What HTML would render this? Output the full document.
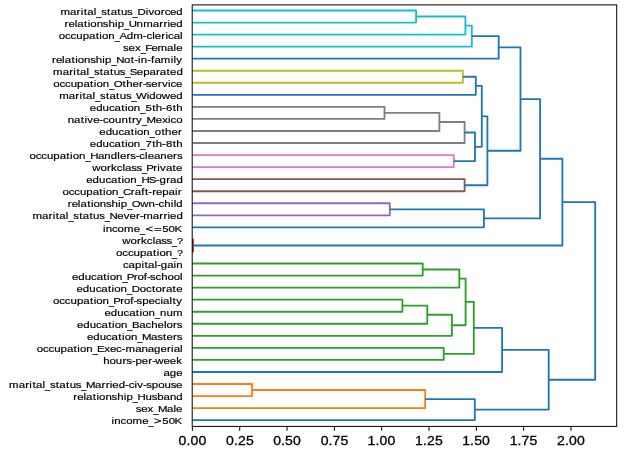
<!DOCTYPE html><html><head><meta charset="utf-8"><style>html,body{margin:0;padding:0;background:#fff;width:630px;height:457px;overflow:hidden}svg{display:block;will-change:transform}text{font-family:"Liberation Sans",sans-serif;fill:#000;stroke:#000;stroke-width:0.18px}</style></head><body>
<svg xmlns="http://www.w3.org/2000/svg" width="630" height="457" viewBox="0 0 630 457">
<rect width="630" height="457" fill="#fff"/>
<g fill="none" stroke-width="1.85" stroke-linejoin="round" stroke-linecap="butt">
<path d="M192.4 10.5 L416.1 10.5 L416.1 22.55 L192.4 22.55" stroke="#17becf"/>
<path d="M416.1 16.52 L465.4 16.52 L465.4 34.6 L192.4 34.6" stroke="#17becf"/>
<path d="M465.4 25.56 L471.8 25.56 L471.8 46.65 L192.4 46.65" stroke="#17becf"/>
<path d="M471.8 36.1 L498.7 36.1 L498.7 58.69 L192.4 58.69" stroke="#1f77b4"/>
<path d="M192.4 70.74 L462.8 70.74 L462.8 82.79 L192.4 82.79" stroke="#bcbd22"/>
<path d="M462.8 76.77 L475.8 76.77 L475.8 94.84 L192.4 94.84" stroke="#1f77b4"/>
<path d="M192.4 106.89 L384.5 106.89 L384.5 118.94 L192.4 118.94" stroke="#7f7f7f"/>
<path d="M384.5 112.91 L439.4 112.91 L439.4 130.99 L192.4 130.99" stroke="#7f7f7f"/>
<path d="M439.4 121.95 L464.6 121.95 L464.6 143.03 L192.4 143.03" stroke="#7f7f7f"/>
<path d="M192.4 155.08 L453.8 155.08 L453.8 167.13 L192.4 167.13" stroke="#e377c2"/>
<path d="M464.6 132.49 L475 132.49 L475 161.11 L453.8 161.11" stroke="#1f77b4"/>
<path d="M475.8 85.8 L481.8 85.8 L481.8 146.8 L475 146.8" stroke="#1f77b4"/>
<path d="M192.4 179.18 L464.6 179.18 L464.6 191.23 L192.4 191.23" stroke="#8c564b"/>
<path d="M481.8 116.3 L487.4 116.3 L487.4 185.2 L464.6 185.2" stroke="#1f77b4"/>
<path d="M498.7 47.4 L520.5 47.4 L520.5 150.75 L487.4 150.75" stroke="#1f77b4"/>
<path d="M192.4 203.28 L389.8 203.28 L389.8 215.33 L192.4 215.33" stroke="#9467bd"/>
<path d="M389.8 209.3 L483.9 209.3 L483.9 227.37 L192.4 227.37" stroke="#1f77b4"/>
<path d="M520.5 99.08 L540.1 99.08 L540.1 218.34 L483.9 218.34" stroke="#1f77b4"/>
<path d="M192.4 239.42 L193 239.42 L193 251.47 L192.4 251.47" stroke="#d62728"/>
<path d="M540.1 158.71 L562.4 158.71 L562.4 245.45 L193 245.45" stroke="#1f77b4"/>
<path d="M192.4 263.52 L422.7 263.52 L422.7 275.57 L192.4 275.57" stroke="#2ca02c"/>
<path d="M422.7 269.54 L459.3 269.54 L459.3 287.62 L192.4 287.62" stroke="#2ca02c"/>
<path d="M192.4 299.67 L402.4 299.67 L402.4 311.72 L192.4 311.72" stroke="#2ca02c"/>
<path d="M402.4 305.69 L427.3 305.69 L427.3 323.76 L192.4 323.76" stroke="#2ca02c"/>
<path d="M427.3 314.73 L451.9 314.73 L451.9 335.81 L192.4 335.81" stroke="#2ca02c"/>
<path d="M459.3 278.58 L465.6 278.58 L465.6 325.27 L451.9 325.27" stroke="#2ca02c"/>
<path d="M192.4 347.86 L443.7 347.86 L443.7 359.91 L192.4 359.91" stroke="#2ca02c"/>
<path d="M465.6 301.93 L473.8 301.93 L473.8 353.89 L443.7 353.89" stroke="#2ca02c"/>
<path d="M473.8 327.91 L502.1 327.91 L502.1 371.96 L192.4 371.96" stroke="#1f77b4"/>
<path d="M192.4 384.01 L252.1 384.01 L252.1 396.06 L192.4 396.06" stroke="#ff7f0e"/>
<path d="M252.1 390.03 L425.2 390.03 L425.2 408.1 L192.4 408.1" stroke="#ff7f0e"/>
<path d="M425.2 399.07 L474.8 399.07 L474.8 420.15 L192.4 420.15" stroke="#1f77b4"/>
<path d="M502.1 349.93 L548.7 349.93 L548.7 409.61 L474.8 409.61" stroke="#1f77b4"/>
<path d="M562.4 202.08 L595.2 202.08 L595.2 379.77 L548.7 379.77" stroke="#1f77b4"/>
</g>
<rect x="192.2" y="4.9" width="424.5" height="421.5" fill="none" stroke="#000" stroke-width="1"/>
<path d="M192.4 426.4 V430.8 M239.73 426.4 V430.8 M287.05 426.4 V430.8 M334.38 426.4 V430.8 M381.7 426.4 V430.8 M429.02 426.4 V430.8 M476.35 426.4 V430.8 M523.68 426.4 V430.8 M571 426.4 V430.8" stroke="#000" stroke-width="1" fill="none"/>
<text transform="translate(0 445) scale(1.0800 1)" font-size="13" style="stroke-width:0.3px" x="165.32 172.65 176.36 183.73">0.00</text>
<text transform="translate(0 445) scale(1.0800 1)" font-size="13" style="stroke-width:0.3px" x="209.28 216.61 220.32 227.69">0.25</text>
<text transform="translate(0 445) scale(1.0800 1)" font-size="13" style="stroke-width:0.3px" x="252.96 260.29 264 271.37">0.50</text>
<text transform="translate(0 445) scale(1.0800 1)" font-size="13" style="stroke-width:0.3px" x="296.92 304.25 307.96 315.33">0.75</text>
<text transform="translate(0 445) scale(1.0800 1)" font-size="13" style="stroke-width:0.3px" x="340.34 347.68 351.39 358.75">1.00</text>
<text transform="translate(0 445) scale(1.0800 1)" font-size="13" style="stroke-width:0.3px" x="384.3 391.63 395.35 402.71">1.25</text>
<text transform="translate(0 445) scale(1.0800 1)" font-size="13" style="stroke-width:0.3px" x="427.98 435.31 439.03 446.39">1.50</text>
<text transform="translate(0 445) scale(1.0800 1)" font-size="13" style="stroke-width:0.3px" x="471.94 479.27 482.98 490.35">1.75</text>
<text transform="translate(0 445) scale(1.0800 1)" font-size="13" style="stroke-width:0.3px" x="515.83 523.16 526.87 534.24">2.00</text>
<text transform="translate(0 15) scale(1.1680 1)" font-size="9.8" x="51.73 59.99 65.53 69.07 71.7 74.71 80.21">marital</text>
<text transform="translate(0 15) scale(1.1680 1)" font-size="9.8" x="86.67 91.72 94.73 100.46 103.55 108.84">status</text>
<text transform="translate(0 15) scale(1.1680 1)" font-size="9.8" x="117.71 124.71 127.13 132.08 137.62 140.98 145.57 151.01">Divorced</text>
<text transform="translate(96.37 16) scale(0.9300 1)" font-size="9.8">_</text>
<text transform="translate(132.64 16) scale(0.9300 1)" font-size="9.8">_</text>
<text transform="translate(0 27) scale(1.1680 1)" font-size="9.8" x="55.29 58.66 63.98 66.22 71.95 75.13 77.36 82.77 88.06 92.81 98.4 100.73">relationship</text>
<text transform="translate(0 27) scale(1.1680 1)" font-size="9.8" x="110.2 116.95 122.58 130.83 136.37 139.95 143.33 145.58 151.01">Unmarried</text>
<text transform="translate(124.06 28) scale(0.9300 1)" font-size="9.8">_</text>
<text transform="translate(0 39) scale(1.1680 1)" font-size="9.8" x="50.28 55.6 60.38 65.24 70.76 76.18 81.91 85.09 87.32 92.73">occupation</text>
<text transform="translate(0 39) scale(1.1680 1)" font-size="9.8" x="102.26 108.53 114.01 122.26 125.4 130.36 132.6 138.16 141.69 143.93 148.7 154.21">Adm-clerical</text>
<text transform="translate(114.71 40) scale(0.9300 1)" font-size="9.8">_</text>
<text transform="translate(0 51) scale(1.1680 1)" font-size="9.8" x="105.38 110.04 115.56">sex</text>
<text transform="translate(0 51) scale(1.1680 1)" font-size="9.8" x="124.28 129.72 134.79 143.05 148.55 150.8">Female</text>
<text transform="translate(140.66 52) scale(0.9300 1)" font-size="9.8">_</text>
<text transform="translate(0 63) scale(1.1680 1)" font-size="9.8" x="44.5 47.87 53.2 55.43 61.16 64.34 66.57 71.98 77.28 82.02 87.62 89.95">relationship</text>
<text transform="translate(0 63) scale(1.1680 1)" font-size="9.8" x="99.49 106.21 111.93 114.93 118.25 120.58 125.99 129.36 132.19 137.73 146.16 148.57 150.99">Not-in-family</text>
<text transform="translate(111.46 64) scale(0.9300 1)" font-size="9.8">_</text>
<text transform="translate(0 75) scale(1.1680 1)" font-size="9.8" x="45.48 53.74 59.28 62.82 65.45 68.46 73.96">marital</text>
<text transform="translate(0 75) scale(1.1680 1)" font-size="9.8" x="80.42 85.47 88.48 94.21 97.3 102.59">status</text>
<text transform="translate(0 75) scale(1.1680 1)" font-size="9.8" x="111.14 117.11 122.55 127.97 133.51 136.86 142.59 145.61 151.04">Separated</text>
<text transform="translate(89.07 76) scale(0.9300 1)" font-size="9.8">_</text>
<text transform="translate(125.34 76) scale(0.9300 1)" font-size="9.8">_</text>
<text transform="translate(0 87) scale(1.1680 1)" font-size="9.8" x="45.52 50.85 55.62 60.49 66 71.42 77.15 80.34 82.57 87.98">occupation</text>
<text transform="translate(0 87) scale(1.1680 1)" font-size="9.8" x="97.41 104.99 108.08 113.51 119.06 122.41 124.87 129.53 135.09 138.63 143.77 146 150.79">Other-service</text>
<text transform="translate(109.16 88) scale(0.9300 1)" font-size="9.8">_</text>
<text transform="translate(0 99) scale(1.1680 1)" font-size="9.8" x="50.71 58.96 64.5 68.04 70.68 73.68 79.19">marital</text>
<text transform="translate(0 99) scale(1.1680 1)" font-size="9.8" x="85.64 90.7 93.7 99.43 102.52 107.81">status</text>
<text transform="translate(0 99) scale(1.1680 1)" font-size="9.8" x="116.54 125.58 127.72 133.14 138.54 145.58 151.01">Widowed</text>
<text transform="translate(95.17 100) scale(0.9300 1)" font-size="9.8">_</text>
<text transform="translate(131.44 100) scale(0.9300 1)" font-size="9.8">_</text>
<text transform="translate(0 111) scale(1.1680 1)" font-size="9.8" x="76.92 82.35 87.86 93.28 98.05 103.78 106.97 109.2 114.61">education</text>
<text transform="translate(0 111) scale(1.1680 1)" font-size="9.8" x="124.47 130.3 133.4 138.81 142.05 147.88 150.98">5th-6th</text>
<text transform="translate(140.27 112) scale(0.9300 1)" font-size="9.8">_</text>
<text transform="translate(0 123) scale(1.1680 1)" font-size="9.8" x="58.03 63.45 69.18 72.36 74.78 79.75 85.09 88.22 93 98.41 103.92 109.74 112.96 116.5">native-country</text>
<text transform="translate(0 123) scale(1.1680 1)" font-size="9.8" x="125.53 133.31 138.83 143.82 146.05 150.82">Mexico</text>
<text transform="translate(141.94 124) scale(0.9300 1)" font-size="9.8">_</text>
<text transform="translate(0 135) scale(1.1680 1)" font-size="9.8" x="85.05 90.48 95.99 101.41 106.19 111.92 115.1 117.33 122.74">education</text>
<text transform="translate(0 135) scale(1.1680 1)" font-size="9.8" x="132.5 138.23 141.32 146.75 152.3">other</text>
<text transform="translate(149.77 136) scale(0.9300 1)" font-size="9.8">_</text>
<text transform="translate(0 147) scale(1.1680 1)" font-size="9.8" x="76.92 82.35 87.86 93.28 98.05 103.78 106.97 109.2 114.61">education</text>
<text transform="translate(0 147) scale(1.1680 1)" font-size="9.8" x="124.47 130.3 133.4 138.81 142.05 147.88 150.98">7th-8th</text>
<text transform="translate(140.27 148) scale(0.9300 1)" font-size="9.8">_</text>
<text transform="translate(0 159) scale(1.1680 1)" font-size="9.8" x="25.19 30.51 35.29 40.16 45.67 51.09 56.82 60 62.23 67.65">occupation</text>
<text transform="translate(0 159) scale(1.1680 1)" font-size="9.8" x="77.2 83.94 89.36 94.87 100.47 102.72 108.27 111.5 116.15 119.29 124.25 126.49 131.83 137.24 142.67 148.22 151.45">Handlers-cleaners</text>
<text transform="translate(85.41 160) scale(0.9300 1)" font-size="9.8">_</text>
<text transform="translate(0 171) scale(1.1680 1)" font-size="9.8" x="78.95 85.98 91.52 95 99.91 104.86 107.1 112.3 116.83">workclass</text>
<text transform="translate(0 171) scale(1.1680 1)" font-size="9.8" x="125.24 131.28 134.66 137.08 142.04 147.77 150.78">Private</text>
<text transform="translate(141.96 172) scale(0.9300 1)" font-size="9.8">_</text>
<text transform="translate(0 183) scale(1.1680 1)" font-size="9.8" x="73.88 79.31 84.82 90.24 95.02 100.75 103.93 106.16 111.57">education</text>
<text transform="translate(0 183) scale(1.1680 1)" font-size="9.8" x="121.12 127.42 133.38 136.61 142.25 145.61 151.03">HS-grad</text>
<text transform="translate(136.72 184) scale(0.9300 1)" font-size="9.8">_</text>
<text transform="translate(0 195) scale(1.1680 1)" font-size="9.8" x="53.44 58.77 63.54 68.41 73.92 79.34 85.07 88.26 90.49 95.9">occupation</text>
<text transform="translate(0 195) scale(1.1680 1)" font-size="9.8" x="105.22 111.95 115.3 120.86 124.09 126.94 130.29 133.66 138.9 144.32 149.83 152.28">Craft-repair</text>
<text transform="translate(118.41 196) scale(0.9300 1)" font-size="9.8">_</text>
<text transform="translate(0 207) scale(1.1680 1)" font-size="9.8" x="57.99 61.35 66.68 68.91 74.64 77.83 80.06 85.47 90.76 95.5 101.1 103.43">relationship</text>
<text transform="translate(0 207) scale(1.1680 1)" font-size="9.8" x="112.87 120.11 127.23 132.65 135.79 140.66 146.25 148.67 151">Own-child</text>
<text transform="translate(127.21 208) scale(0.9300 1)" font-size="9.8">_</text>
<text transform="translate(0 219) scale(1.1680 1)" font-size="9.8" x="27.8 36.06 41.6 45.14 47.77 50.78 56.28">marital</text>
<text transform="translate(0 219) scale(1.1680 1)" font-size="9.8" x="62.74 67.79 70.8 76.53 79.62 84.91">status</text>
<text transform="translate(0 219) scale(1.1680 1)" font-size="9.8" x="93.68 100.42 105.94 110.91 116.46 119.82 122.61 130.86 136.4 139.98 143.36 145.61 151.04">Never-married</text>
<text transform="translate(68.42 220) scale(0.9300 1)" font-size="9.8">_</text>
<text transform="translate(104.69 220) scale(0.9300 1)" font-size="9.8">_</text>
<text transform="translate(0 232) scale(1.1680 1)" font-size="9.8" x="88.18 90.5 95.92 100.69 106.22 114.49">income</text>
<text transform="translate(0 232) scale(1.1680 1)" font-size="9.8" x="138.83 144.36 149.43">50K</text>
<text transform="translate(140.03 233) scale(0.9300 1)" font-size="9.8">_</text>
<text transform="translate(145.53 232) scale(1.3370 1)" font-size="9.8">&lt;</text>
<text transform="translate(154.03 232) scale(1.3370 1)" font-size="9.8">=</text>
<text transform="translate(0 244) scale(1.1680 1)" font-size="9.8" x="104.77 111.79 117.33 120.81 125.72 130.68 132.91 138.11 142.64">workclass</text>
<text transform="translate(0 244) scale(1.1680 1)" font-size="9.8" x="151.28">?</text>
<text transform="translate(172.11 245) scale(0.9300 1)" font-size="9.8">_</text>
<text transform="translate(0 256) scale(1.1680 1)" font-size="9.8" x="99.42 104.74 109.52 114.39 119.9 125.32 131.05 134.23 136.46 141.87">occupation</text>
<text transform="translate(0 256) scale(1.1680 1)" font-size="9.8" x="151.28">?</text>
<text transform="translate(172.11 257) scale(0.9300 1)" font-size="9.8">_</text>
<text transform="translate(0 268) scale(1.1680 1)" font-size="9.8" x="105.29 110.07 115.49 121.09 123.73 126.73 132.24 134.47 137.7 143.12 148.63 150.95">capital-gain</text>
<text transform="translate(0 280) scale(1.1680 1)" font-size="9.8" x="61.63 67.07 72.58 78 82.77 88.5 91.69 93.91 99.33">education</text>
<text transform="translate(0 280) scale(1.1680 1)" font-size="9.8" x="108.5 114.55 117.74 123.11 125.93 128.47 133.12 137.99 143.4 148.72 154.22">Prof-school</text>
<text transform="translate(122.42 281) scale(0.9300 1)" font-size="9.8">_</text>
<text transform="translate(0 292) scale(1.1680 1)" font-size="9.8" x="65.53 70.96 76.47 81.89 86.67 92.4 95.58 97.81 103.22">education</text>
<text transform="translate(0 292) scale(1.1680 1)" font-size="9.8" x="112.85 119.67 124.99 130.17 133.17 138.71 142.07 147.8 150.81">Doctorate</text>
<text transform="translate(126.97 293) scale(0.9300 1)" font-size="9.8">_</text>
<text transform="translate(0 304) scale(1.1680 1)" font-size="9.8" x="45.35 50.68 55.45 60.32 65.83 71.25 76.98 80.17 82.4 87.81">occupation</text>
<text transform="translate(0 304) scale(1.1680 1)" font-size="9.8" x="96.98 103.03 106.23 111.59 114.41 116.95 121.7 127.13 132.47 137.42 139.66 145.16 147.8 150.99">Prof-specialty</text>
<text transform="translate(108.96 305) scale(0.9300 1)" font-size="9.8">_</text>
<text transform="translate(0 316) scale(1.1680 1)" font-size="9.8" x="89.46 94.89 100.4 105.82 110.6 116.33 119.51 121.74 127.15">education</text>
<text transform="translate(0 316) scale(1.1680 1)" font-size="9.8" x="137.01 142.51 148.14">num</text>
<text transform="translate(154.92 317) scale(0.9300 1)" font-size="9.8">_</text>
<text transform="translate(0 328) scale(1.1680 1)" font-size="9.8" x="65.87 71.3 76.82 82.23 87.01 92.74 95.92 98.15 103.57">education</text>
<text transform="translate(0 328) scale(1.1680 1)" font-size="9.8" x="113.1 119.29 124.61 129.48 134.91 140.43 142.66 148.19 151.43">Bachelors</text>
<text transform="translate(127.37 329) scale(0.9300 1)" font-size="9.8">_</text>
<text transform="translate(0 340) scale(1.1680 1)" font-size="9.8" x="74.43 79.87 85.38 90.8 95.57 101.3 104.49 106.71 112.13">education</text>
<text transform="translate(0 340) scale(1.1680 1)" font-size="9.8" x="121.62 129.39 134.59 139.64 142.66 148.21 151.44">Masters</text>
<text transform="translate(137.37 341) scale(0.9300 1)" font-size="9.8">_</text>
<text transform="translate(0 352) scale(1.1680 1)" font-size="9.8" x="31.4 36.72 41.5 46.37 51.88 57.3 63.03 66.21 68.44 73.85">occupation</text>
<text transform="translate(0 352) scale(1.1680 1)" font-size="9.8" x="83.15 89.29 94.26 99.33 104.1 107.45 115.71 121.12 126.54 131.96 137.39 142.94 146.48 148.71 154.22">Exec-managerial</text>
<text transform="translate(92.66 353) scale(0.9300 1)" font-size="9.8">_</text>
<text transform="translate(0 364) scale(1.1680 1)" font-size="9.8" x="88.38 93.8 99.21 104.84 108.07 112.72 115.96 121.39 126.94 130.3 132.95 139.99 145.34 150.81">hours-per-week</text>
<text transform="translate(0 376) scale(1.1680 1)" font-size="9.8" x="139.96 145.38 150.82">age</text>
<text transform="translate(0 388) scale(1.1680 1)" font-size="9.8" x="7.81 16.07 21.61 25.14 27.78 30.78 36.29">marital</text>
<text transform="translate(0 388) scale(1.1680 1)" font-size="9.8" x="42.75 47.8 50.8 56.53 59.63 64.92">status</text>
<text transform="translate(0 388) scale(1.1680 1)" font-size="9.8" x="73.65 81.41 86.96 90.53 93.91 96.16 101.59 107.01 110.15 115.1 117.52 122.48 125.26 130.01 135.42 140.83 146.13 150.79">Married-civ-spouse</text>
<text transform="translate(45.07 389) scale(0.9300 1)" font-size="9.8">_</text>
<text transform="translate(81.34 389) scale(0.9300 1)" font-size="9.8">_</text>
<text transform="translate(0 400) scale(1.1680 1)" font-size="9.8" x="62.78 66.15 71.48 73.71 79.44 82.62 84.85 90.26 95.56 100.3 105.9 108.22">relationship</text>
<text transform="translate(0 400) scale(1.1680 1)" font-size="9.8" x="117.78 124.62 129.91 134.66 140.08 145.49 151">Husband</text>
<text transform="translate(132.81 401) scale(0.9300 1)" font-size="9.8">_</text>
<text transform="translate(0 412) scale(1.1680 1)" font-size="9.8" x="116.21 120.87 126.39">sex</text>
<text transform="translate(0 412) scale(1.1680 1)" font-size="9.8" x="135.27 143.04 148.55 150.79">Male</text>
<text transform="translate(153.31 413) scale(0.9300 1)" font-size="9.8">_</text>
<text transform="translate(0 424) scale(1.1680 1)" font-size="9.8" x="95.5 97.82 103.24 108.01 113.54 121.81">income</text>
<text transform="translate(0 424) scale(1.1680 1)" font-size="9.8" x="138.87 144.4 149.47">50K</text>
<text transform="translate(148.58 425) scale(0.9300 1)" font-size="9.8">_</text>
<text transform="translate(154.08 424) scale(1.3370 1)" font-size="9.8">&gt;</text>
</svg></body></html>
